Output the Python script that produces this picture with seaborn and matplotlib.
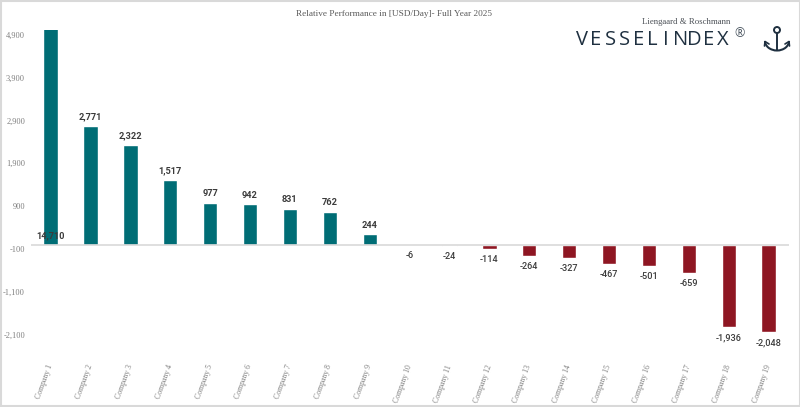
import numpy as np
import pandas as pd
import matplotlib
matplotlib.use("Agg")
import matplotlib.pyplot as plt
from matplotlib.patches import Circle, Arc, Rectangle
import seaborn as sns

companies = [f"Company {i}" for i in range(1, 20)]
performance = [14710, 2771, 2322, 1517, 977, 942, 831, 762, 244, -6,
               -24, -114, -264, -327, -467, -501, -659, -1936, -2048]
y_ticks = [-2100, -1100, -100, 900, 1900, 2900, 3900, 4900]
y_limits = (-2465, 5012)

TEAL = "#006d75"
RED = "#8e1622"
GREY_LINE = "#d9d9d9"

df = pd.DataFrame({"company": companies, "value": performance})
df["sign"] = np.where(df["value"] >= 0, "up", "down")

sns.set_theme(style="white")
fig = plt.figure(figsize=(8.0, 4.07), dpi=100, facecolor="white")
W, H = 800, 407
ax = fig.add_axes([30.6 / W, 1 - 350 / H, (788.6 - 30.6) / W, (350 - 30) / H])

sns.barplot(data=df, x="company", y="value", hue="sign",
            palette={"up": TEAL, "down": RED}, dodge=False, width=0.36,
            legend=False, ax=ax, saturation=1)

ax.set_xlim(-0.5, 18.5)
ax.set_ylim(*y_limits)
ax.set_xlabel("")
ax.set_ylabel("")
sns.despine(ax=ax, left=True, bottom=True)
ax.axhline(0, color=GREY_LINE, lw=1.2, zorder=1)

ax.set_yticks(y_ticks)
ax.set_yticklabels([f"{t:,}" for t in y_ticks], family="Liberation Serif",
                   fontsize=6, color="#7f7f7f")
ax.tick_params(axis="y", length=0, pad=4)
ax.set_xticks(range(len(companies)))
ax.set_xticklabels(companies, rotation=70, ha="right", va="center",
                   rotation_mode="anchor",
                   family="Liberation Serif", fontsize=5.6, color="#7f7f7f")
ax.tick_params(axis="x", length=0, pad=11)

# Value labels sit just beyond each bar; a bar running off the scale is labelled at its base
for i, v in enumerate(performance):
    on_scale = v <= y_limits[1]
    anchor = v if on_scale else 0
    offset = 9 if v >= 0 else -10.5
    ax.annotate(f"{v:,}", (i, anchor), xytext=(0, offset * 0.72),
                textcoords="offset points", ha="center", va="center",
                family="Roboto", fontsize=6.6,
                fontweight="bold" if v >= 0 else "medium",
                color="#3b3b3b", annotation_clip=False, zorder=5)

# Full-figure overlay in pixel units for the heading, logo and frame
overlay = fig.add_axes([0, 0, 1, 1], facecolor="none")
overlay.set_xlim(0, W)
overlay.set_ylim(H, 0)
overlay.axis("off")

overlay.text(394, 13.5, "Relative Performance in [USD/Day]- Full Year 2025",
             family="Liberation Serif", fontsize=6.7, color="#595959",
             ha="center", va="center")

overlay.text(686, 22, "Liengaard & Roschmann", family="Liberation Serif",
             fontsize=6.3, color="#4a4f55", ha="center", va="center")
for k, letter in enumerate("VESSELINDEX"):
    overlay.text(582 + k * 14.05, 40, letter, family="Open Sans", fontsize=14.5,
                 color="#1f3040", ha="center", va="center")
overlay.text(740, 33.5, "®", family="Open Sans", fontsize=9, color="#4a5560",
             ha="center", va="center")

ink = "#1f3040"
overlay.add_patch(Circle((777, 30), 3, fill=False, ec=ink, lw=1.4))
overlay.plot([777, 777], [33, 50.5], color=ink, lw=1.4, solid_capstyle="butt")
overlay.add_patch(Arc((777, 41), 24, 19, theta1=0, theta2=180, ec=ink, lw=1.5))
overlay.plot([764.5, 765, 769], [46, 41.5, 44], color=ink, lw=1.2)
overlay.plot([785, 789, 789.5], [44, 41.5, 46], color=ink, lw=1.2)

overlay.add_patch(Rectangle((0.5, 0.5), W - 1, H - 2, fill=False, ec=GREY_LINE, lw=1.5))

fig.savefig("out.png", dpi=100, facecolor="white")
